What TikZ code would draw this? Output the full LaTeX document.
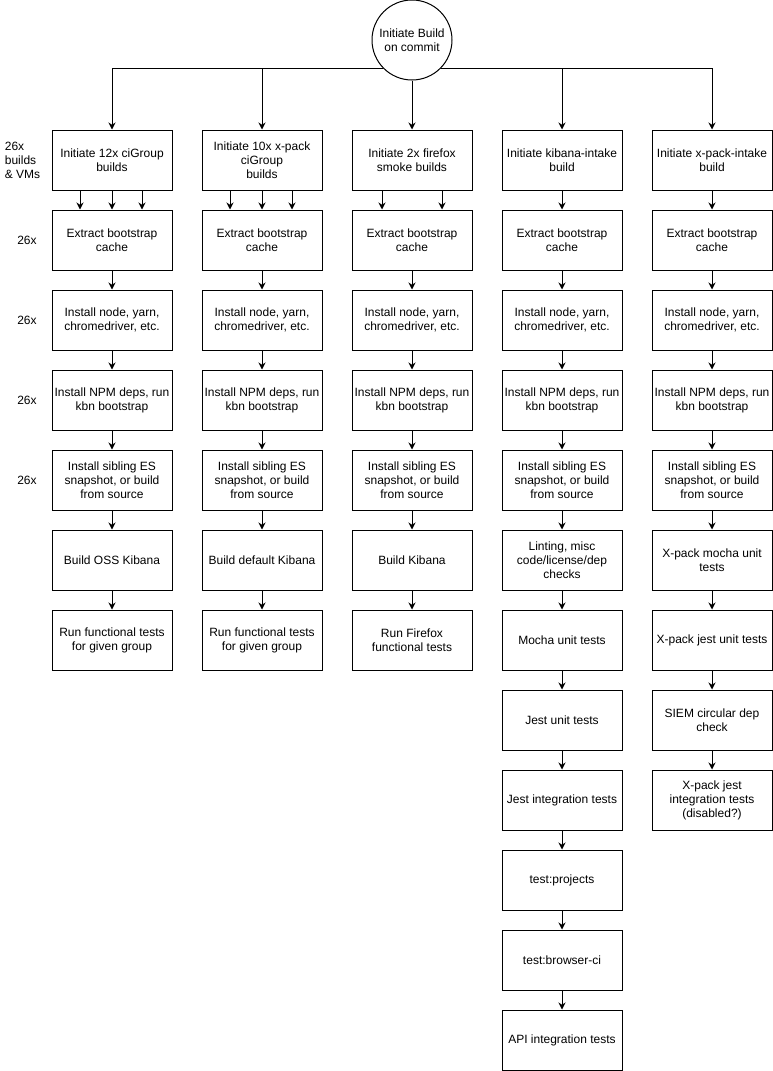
\documentclass[tikz,border=0pt]{standalone}
\usepackage{fontspec}
\setmainfont{Liberation Sans}
\usetikzlibrary{arrows.meta}

\begin{document}
\begin{tikzpicture}[x=1pt, y=-1pt, line width=1pt,
    font=\fontsize{12}{14}\selectfont,
    stepbox/.style={draw, rectangle, minimum width=120pt, minimum height=60pt, inner sep=0pt, align=center},
    flow/.style={-{Stealth[length=7pt,width=7pt]}}]
    \useasboundingbox (0,0) rectangle (772,1071);

    % Trigger
    \node[draw, circle, minimum size=80pt, inner sep=0pt, align=center] (start) at (412,40) {Initiate Build\\on commit};

    % Row labels
    \node[anchor=west, align=left] (lbl1) at (1,160) {26x\\builds\\\& VMs};
    \node (lbl2) at (27,240) {26x};
    \node (lbl3) at (27,320) {26x};
    \node (lbl4) at (27,400) {26x};
    \node (lbl5) at (27,480) {26x};

    % Initiate builds
    \node[stepbox] (init1) at (112,160) {Initiate 12x ciGroup\\builds};
    \node[stepbox] (init2) at (262,160) {Initiate 10x x-pack\\ciGroup\\builds};
    \node[stepbox] (init3) at (412,160) {Initiate 2x firefox\\smoke builds};
    \node[stepbox] (init4) at (562,160) {Initiate kibana-intake\\build};
    \node[stepbox] (init5) at (712,160) {Initiate x-pack-intake\\build};

    \draw[flow] (start.224) -| (init1.north);
    \draw[flow] (start.224) -| (init2.north);
    \draw[flow] (start.south) -- (init3.north);
    \draw[flow] (start.316) -| (init4.north);
    \draw[flow] (start.316) -| (init5.north);

    % Shared setup steps
    \foreach \c/\x in {1/112, 2/262, 3/412, 4/562, 5/712} {
        \node[stepbox] (ex\c) at (\x,240) {Extract bootstrap\\cache};
        \node[stepbox] (tools\c) at (\x,320) {Install node, yarn,\\chromedriver, etc.};
        \node[stepbox] (deps\c) at (\x,400) {Install NPM deps, run\\kbn bootstrap};
        \node[stepbox] (es\c) at (\x,480) {Install sibling ES\\snapshot, or build\\from source};
        \draw[flow] (ex\c) -- (tools\c);
        \draw[flow] (tools\c) -- (deps\c);
        \draw[flow] (deps\c) -- (es\c);
    }

    % Fan out into setup
    \foreach \dx in {-32,0,30} {
        \draw[flow] ([xshift=\dx pt]init1.south) -- ([xshift=\dx pt]ex1.north);
        \draw[flow] ([xshift=\dx pt]init2.south) -- ([xshift=\dx pt]ex2.north);
    }
    \draw[flow] ([xshift=-30pt]init3.south) -- ([xshift=-30pt]ex3.north);
    \draw[flow] ([xshift=30pt]init3.south) -- ([xshift=30pt]ex3.north);
    \draw[flow] (init4) -- (ex4);
    \draw[flow] (init5) -- (ex5);

    % ciGroup
    \node[stepbox] (oss) at (112,560) {Build OSS Kibana};
    \node[stepbox] (ossrun) at (112,640) {Run functional tests\\for given group};
    \draw[flow] (es1) -- (oss);
    \draw[flow] (oss) -- (ossrun);

    % x-pack ciGroup
    \node[stepbox] (def) at (262,560) {Build default Kibana};
    \node[stepbox] (defrun) at (262,640) {Run functional tests\\for given group};
    \draw[flow] (es2) -- (def);
    \draw[flow] (def) -- (defrun);

    % firefox smoke
    \node[stepbox] (ff) at (412,560) {Build Kibana};
    \node[stepbox] (ffrun) at (412,640) {Run Firefox\\functional tests};
    \draw[flow] (es3) -- (ff);
    \draw[flow] (ff) -- (ffrun);

    % kibana-intake
    \node[stepbox] (lint) at (562,560) {Linting, misc\\code/license/dep\\checks};
    \node[stepbox] (mocha) at (562,640) {Mocha unit tests};
    \node[stepbox] (jest) at (562,720) {Jest unit tests};
    \node[stepbox] (jestint) at (562,800) {Jest integration tests};
    \node[stepbox] (proj) at (562,880) {test:projects};
    \node[stepbox] (browser) at (562,960) {test:browser-ci};
    \node[stepbox] (api) at (562,1040) {API integration tests};
    \draw[flow] (es4) -- (lint);
    \draw[flow] (lint) -- (mocha);
    \draw[flow] (mocha) -- (jest);
    \draw[flow] (jest) -- (jestint);
    \draw[flow] (jestint) -- (proj);
    \draw[flow] (proj) -- (browser);
    \draw[flow] (browser) -- (api);

    % x-pack-intake
    \node[stepbox] (xmocha) at (712,560) {X-pack mocha unit\\tests};
    \node[stepbox] (xjest) at (712,640) {X-pack jest unit tests};
    \node[stepbox] (siem) at (712,720) {SIEM circular dep\\check};
    \node[stepbox] (xjestint) at (712,800) {X-pack jest\\integration tests\\(disabled?)};
    \draw[flow] (es5) -- (xmocha);
    \draw[flow] (xmocha) -- (xjest);
    \draw[flow] (xjest) -- (siem);
    \draw[flow] (siem) -- (xjestint);
\end{tikzpicture}
\end{document}
